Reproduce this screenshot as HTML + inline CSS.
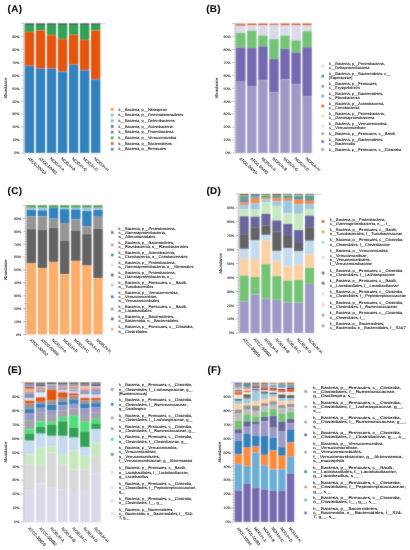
<!DOCTYPE html>
<html><head><meta charset="utf-8"><title>Figure</title>
<style>
html,body{margin:0;padding:0;background:#fff;}
body{width:410px;height:550px;overflow:hidden;}
svg{display:block;text-rendering:geometricPrecision;font-family:"Liberation Sans",Arial,Helvetica,sans-serif;}
.sh{}
.tx{}
.pl{font-size:9.8px;font-weight:bold;fill:#111;letter-spacing:.4px;stroke:#111;stroke-width:.15px;}
.yt{font-size:3.6px;fill:#333;text-anchor:end;stroke:#333;stroke-width:.1px;}
.ab{font-size:4.1px;fill:#333;text-anchor:middle;stroke:#333;stroke-width:.1px;}
.xl{font-size:4.0px;fill:#333;stroke:#333;stroke-width:.1px;}
.lg{font-size:3.92px;fill:#111;stroke:#111;stroke-width:.08px;}
.lf{font-size:4.68px;}
.xf{font-size:3.85px;}
.xd{font-size:4.15px;}
.axl{stroke:#888;stroke-width:.5;fill:none;}
.axb{stroke:#ddd;stroke-width:.5;fill:none;}
.axt{stroke:#888;stroke-width:.5;fill:none;}
.tk{stroke:#444;stroke-width:.4;fill:none;}
</style></head><body>
<svg width="410" height="550" viewBox="0 0 410 550">
<rect width="410" height="550" fill="#fff"/>
<defs><filter id="b" x="0" y="0" width="410" height="550" filterUnits="userSpaceOnUse"><feConvolveMatrix order="3" kernelMatrix="0.0225 0.1050 0.0225 0.1050 0.4900 0.1050 0.0225 0.1050 0.0225" divisor="1" edgeMode="duplicate"/></filter><filter id="t" x="0" y="0" width="410" height="550" filterUnits="userSpaceOnUse"><feGaussianBlur stdDeviation="0.2"/></filter></defs>
<g class="sh" filter="url(#b)">
<rect x="24.80" y="23.40" width="9.35" height="1.50" fill="#3f444f"/>
<rect x="24.80" y="24.90" width="9.35" height="7.10" fill="#31a354"/>
<rect x="24.80" y="32.00" width="9.35" height="33.80" fill="#e6550d"/>
<rect x="24.80" y="65.80" width="9.35" height="87.20" fill="#3182bd"/>
<rect x="35.83" y="23.40" width="9.35" height="1.50" fill="#3f444f"/>
<rect x="35.83" y="24.90" width="9.35" height="5.60" fill="#31a354"/>
<rect x="35.83" y="30.50" width="9.35" height="38.00" fill="#e6550d"/>
<rect x="35.83" y="68.50" width="9.35" height="84.50" fill="#3182bd"/>
<rect x="46.86" y="23.40" width="9.35" height="1.50" fill="#3f444f"/>
<rect x="46.86" y="24.90" width="9.35" height="10.20" fill="#31a354"/>
<rect x="46.86" y="35.10" width="9.35" height="33.40" fill="#e6550d"/>
<rect x="46.86" y="68.50" width="9.35" height="84.50" fill="#3182bd"/>
<rect x="57.89" y="23.40" width="9.35" height="1.50" fill="#3f444f"/>
<rect x="57.89" y="24.90" width="9.35" height="14.20" fill="#31a354"/>
<rect x="57.89" y="39.10" width="9.35" height="32.50" fill="#e6550d"/>
<rect x="57.89" y="71.60" width="9.35" height="81.40" fill="#3182bd"/>
<rect x="68.92" y="23.40" width="9.35" height="1.50" fill="#3f444f"/>
<rect x="68.92" y="24.90" width="9.35" height="10.00" fill="#31a354"/>
<rect x="68.92" y="34.90" width="9.35" height="29.85" fill="#e6550d"/>
<rect x="68.92" y="64.75" width="9.35" height="88.25" fill="#3182bd"/>
<rect x="79.95" y="23.40" width="9.35" height="1.50" fill="#3f444f"/>
<rect x="79.95" y="24.90" width="9.35" height="15.00" fill="#31a354"/>
<rect x="79.95" y="39.90" width="9.35" height="30.30" fill="#e6550d"/>
<rect x="79.95" y="70.20" width="9.35" height="82.80" fill="#3182bd"/>
<rect x="90.98" y="23.40" width="9.35" height="1.50" fill="#3f444f"/>
<rect x="90.98" y="24.90" width="9.35" height="5.60" fill="#31a354"/>
<rect x="90.98" y="30.50" width="9.35" height="48.80" fill="#e6550d"/>
<rect x="90.98" y="79.30" width="9.35" height="73.70" fill="#3182bd"/>
<path d="M24.2 23.5V153.0" class="axl"/>
<path d="M24.2 153.3H102.0" class="axb"/>
<path d="M99.3 23.75H105.6" class="axt"/>
<path d="M21.20 153.00H24.2M22.90 150.41H24.2M22.90 147.82H24.2M22.90 145.23H24.2M22.90 142.64H24.2M21.20 140.05H24.2M22.90 137.46H24.2M22.90 134.87H24.2M22.90 132.28H24.2M22.90 129.69H24.2M21.20 127.10H24.2M22.90 124.51H24.2M22.90 121.92H24.2M22.90 119.33H24.2M22.90 116.74H24.2M21.20 114.15H24.2M22.90 111.56H24.2M22.90 108.97H24.2M22.90 106.38H24.2M22.90 103.79H24.2M21.20 101.20H24.2M22.90 98.61H24.2M22.90 96.02H24.2M22.90 93.43H24.2M22.90 90.84H24.2M21.20 88.25H24.2M22.90 85.66H24.2M22.90 83.07H24.2M22.90 80.48H24.2M22.90 77.89H24.2M21.20 75.30H24.2M22.90 72.71H24.2M22.90 70.12H24.2M22.90 67.53H24.2M22.90 64.94H24.2M21.20 62.35H24.2M22.90 59.76H24.2M22.90 57.17H24.2M22.90 54.58H24.2M22.90 51.99H24.2M21.20 49.40H24.2M22.90 46.81H24.2M22.90 44.22H24.2M22.90 41.63H24.2M22.90 39.04H24.2M21.20 36.45H24.2M22.90 33.86H24.2M22.90 31.27H24.2M22.90 28.68H24.2M22.90 26.09H24.2M21.20 23.50H24.2" class="tk"/>
<rect x="110.90" y="108.10" width="2.6" height="2.6" fill="#fd8d3c"/>
<rect x="110.90" y="113.79" width="2.6" height="2.6" fill="#74c476"/>
<rect x="110.90" y="119.48" width="2.6" height="2.6" fill="#6baed6"/>
<rect x="110.90" y="125.17" width="2.6" height="2.6" fill="#636363"/>
<rect x="110.90" y="130.86" width="2.6" height="2.6" fill="#756bb1"/>
<rect x="110.90" y="136.55" width="2.6" height="2.6" fill="#31a354"/>
<rect x="110.90" y="142.24" width="2.6" height="2.6" fill="#e6550d"/>
<rect x="110.90" y="147.93" width="2.6" height="2.6" fill="#3182bd"/>
<rect x="236.10" y="23.40" width="9.4" height="0.80" fill="#8f9fc0"/>
<rect x="236.10" y="24.20" width="9.4" height="1.60" fill="#e6550d"/>
<rect x="236.10" y="25.80" width="9.4" height="7.10" fill="#dadaeb"/>
<rect x="236.10" y="32.90" width="9.4" height="14.70" fill="#74c476"/>
<rect x="236.10" y="47.60" width="9.4" height="34.17" fill="#756bb1"/>
<rect x="236.10" y="81.77" width="9.4" height="71.23" fill="#9e9ac8"/>
<rect x="247.15" y="23.40" width="9.4" height="0.50" fill="#8a8078"/>
<rect x="247.15" y="23.90" width="9.4" height="1.50" fill="#e6550d"/>
<rect x="247.15" y="25.40" width="9.4" height="5.30" fill="#dadaeb"/>
<rect x="247.15" y="30.70" width="9.4" height="17.40" fill="#74c476"/>
<rect x="247.15" y="48.10" width="9.4" height="38.46" fill="#756bb1"/>
<rect x="247.15" y="86.56" width="9.4" height="66.44" fill="#9e9ac8"/>
<rect x="258.20" y="23.40" width="9.4" height="0.50" fill="#8a8078"/>
<rect x="258.20" y="23.90" width="9.4" height="1.50" fill="#e6550d"/>
<rect x="258.20" y="25.40" width="9.4" height="10.20" fill="#dadaeb"/>
<rect x="258.20" y="35.60" width="9.4" height="10.70" fill="#74c476"/>
<rect x="258.20" y="46.30" width="9.4" height="34.04" fill="#756bb1"/>
<rect x="258.20" y="80.34" width="9.4" height="72.66" fill="#9e9ac8"/>
<rect x="269.25" y="23.40" width="9.4" height="0.80" fill="#8f9fc0"/>
<rect x="269.25" y="24.20" width="9.4" height="1.20" fill="#e6550d"/>
<rect x="269.25" y="25.40" width="9.4" height="13.70" fill="#dadaeb"/>
<rect x="269.25" y="39.10" width="9.4" height="19.90" fill="#74c476"/>
<rect x="269.25" y="59.00" width="9.4" height="33.52" fill="#756bb1"/>
<rect x="269.25" y="92.52" width="9.4" height="60.48" fill="#9e9ac8"/>
<rect x="280.30" y="23.40" width="9.4" height="0.50" fill="#8a8078"/>
<rect x="280.30" y="23.90" width="9.4" height="1.50" fill="#e6550d"/>
<rect x="280.30" y="25.40" width="9.4" height="10.20" fill="#dadaeb"/>
<rect x="280.30" y="35.60" width="9.4" height="13.30" fill="#74c476"/>
<rect x="280.30" y="48.90" width="9.4" height="30.41" fill="#756bb1"/>
<rect x="280.30" y="79.31" width="9.4" height="73.69" fill="#9e9ac8"/>
<rect x="291.35" y="23.40" width="9.4" height="0.50" fill="#8a8078"/>
<rect x="291.35" y="23.90" width="9.4" height="1.50" fill="#e6550d"/>
<rect x="291.35" y="25.40" width="9.4" height="15.00" fill="#dadaeb"/>
<rect x="291.35" y="40.40" width="9.4" height="12.10" fill="#74c476"/>
<rect x="291.35" y="52.50" width="9.4" height="31.47" fill="#756bb1"/>
<rect x="291.35" y="83.97" width="9.4" height="69.03" fill="#9e9ac8"/>
<rect x="302.40" y="23.40" width="9.4" height="0.50" fill="#8a8078"/>
<rect x="302.40" y="23.90" width="9.4" height="1.50" fill="#e6550d"/>
<rect x="302.40" y="25.40" width="9.4" height="5.80" fill="#dadaeb"/>
<rect x="302.40" y="31.20" width="9.4" height="16.00" fill="#74c476"/>
<rect x="302.40" y="47.20" width="9.4" height="49.33" fill="#756bb1"/>
<rect x="302.40" y="96.53" width="9.4" height="56.47" fill="#9e9ac8"/>
<path d="M235.4 23.5V153.0" class="axl"/>
<path d="M235.4 153.3H313.4" class="axb"/>
<path d="M232.40 153.00H235.4M234.10 150.41H235.4M234.10 147.82H235.4M234.10 145.23H235.4M234.10 142.64H235.4M232.40 140.05H235.4M234.10 137.46H235.4M234.10 134.87H235.4M234.10 132.28H235.4M234.10 129.69H235.4M232.40 127.10H235.4M234.10 124.51H235.4M234.10 121.92H235.4M234.10 119.33H235.4M234.10 116.74H235.4M232.40 114.15H235.4M234.10 111.56H235.4M234.10 108.97H235.4M234.10 106.38H235.4M234.10 103.79H235.4M232.40 101.20H235.4M234.10 98.61H235.4M234.10 96.02H235.4M234.10 93.43H235.4M234.10 90.84H235.4M232.40 88.25H235.4M234.10 85.66H235.4M234.10 83.07H235.4M234.10 80.48H235.4M234.10 77.89H235.4M232.40 75.30H235.4M234.10 72.71H235.4M234.10 70.12H235.4M234.10 67.53H235.4M234.10 64.94H235.4M232.40 62.35H235.4M234.10 59.76H235.4M234.10 57.17H235.4M234.10 54.58H235.4M234.10 51.99H235.4M232.40 49.40H235.4M234.10 46.81H235.4M234.10 44.22H235.4M234.10 41.63H235.4M234.10 39.04H235.4M232.40 36.45H235.4M234.10 33.86H235.4M234.10 31.27H235.4M234.10 28.68H235.4M234.10 26.09H235.4M232.40 23.50H235.4" class="tk"/>
<rect x="321.40" y="64.60" width="2.6" height="2.6" fill="#c6dbef"/>
<rect x="321.40" y="74.90" width="2.6" height="2.6" fill="#31a354"/>
<rect x="321.40" y="84.90" width="2.6" height="2.6" fill="#969696"/>
<rect x="321.40" y="94.70" width="2.6" height="2.6" fill="#6baed6"/>
<rect x="321.40" y="104.70" width="2.6" height="2.6" fill="#e6550d"/>
<rect x="321.40" y="114.60" width="2.6" height="2.6" fill="#fdd0a2"/>
<rect x="321.40" y="124.70" width="2.6" height="2.6" fill="#dadaeb"/>
<rect x="321.40" y="132.40" width="2.6" height="2.6" fill="#74c476"/>
<rect x="321.40" y="140.20" width="2.6" height="2.6" fill="#756bb1"/>
<rect x="321.40" y="148.20" width="2.6" height="2.6" fill="#9e9ac8"/>
<rect x="26.60" y="205.20" width="9.4" height="0.70" fill="#9a7050"/>
<rect x="26.60" y="205.90" width="9.4" height="1.80" fill="#31a354"/>
<rect x="26.60" y="207.70" width="9.4" height="2.20" fill="#9ecae1"/>
<rect x="26.60" y="209.90" width="9.4" height="6.60" fill="#3182bd"/>
<rect x="26.60" y="216.50" width="9.4" height="12.70" fill="#969696"/>
<rect x="26.60" y="229.20" width="9.4" height="34.17" fill="#636363"/>
<rect x="26.60" y="263.37" width="9.4" height="71.13" fill="#fdae6b"/>
<rect x="37.72" y="205.20" width="9.4" height="0.70" fill="#9a7050"/>
<rect x="37.72" y="205.90" width="9.4" height="1.80" fill="#31a354"/>
<rect x="37.72" y="207.70" width="9.4" height="2.60" fill="#9ecae1"/>
<rect x="37.72" y="210.30" width="9.4" height="6.20" fill="#3182bd"/>
<rect x="37.72" y="216.50" width="9.4" height="13.20" fill="#969696"/>
<rect x="37.72" y="229.70" width="9.4" height="38.46" fill="#636363"/>
<rect x="37.72" y="268.16" width="9.4" height="66.34" fill="#fdae6b"/>
<rect x="48.84" y="205.20" width="9.4" height="0.70" fill="#9a7050"/>
<rect x="48.84" y="205.90" width="9.4" height="1.80" fill="#31a354"/>
<rect x="48.84" y="207.70" width="9.4" height="0.20" fill="#9ecae1"/>
<rect x="48.84" y="207.90" width="9.4" height="10.80" fill="#3182bd"/>
<rect x="48.84" y="218.70" width="9.4" height="9.20" fill="#969696"/>
<rect x="48.84" y="227.90" width="9.4" height="34.04" fill="#636363"/>
<rect x="48.84" y="261.94" width="9.4" height="72.56" fill="#fdae6b"/>
<rect x="59.96" y="205.20" width="9.4" height="0.70" fill="#9a7050"/>
<rect x="59.96" y="205.90" width="9.4" height="1.80" fill="#31a354"/>
<rect x="59.96" y="207.70" width="9.4" height="1.50" fill="#9ecae1"/>
<rect x="59.96" y="209.20" width="9.4" height="13.80" fill="#3182bd"/>
<rect x="59.96" y="223.00" width="9.4" height="17.60" fill="#969696"/>
<rect x="59.96" y="240.60" width="9.4" height="33.52" fill="#636363"/>
<rect x="59.96" y="274.12" width="9.4" height="60.38" fill="#fdae6b"/>
<rect x="71.08" y="205.20" width="9.4" height="0.70" fill="#9a7050"/>
<rect x="71.08" y="205.90" width="9.4" height="1.80" fill="#31a354"/>
<rect x="71.08" y="207.70" width="9.4" height="1.70" fill="#9ecae1"/>
<rect x="71.08" y="209.40" width="9.4" height="9.90" fill="#3182bd"/>
<rect x="71.08" y="219.30" width="9.4" height="11.20" fill="#969696"/>
<rect x="71.08" y="230.50" width="9.4" height="30.41" fill="#636363"/>
<rect x="71.08" y="260.91" width="9.4" height="73.59" fill="#fdae6b"/>
<rect x="82.20" y="205.20" width="9.4" height="0.70" fill="#9a7050"/>
<rect x="82.20" y="205.90" width="9.4" height="1.80" fill="#31a354"/>
<rect x="82.20" y="207.70" width="9.4" height="3.30" fill="#9ecae1"/>
<rect x="82.20" y="211.00" width="9.4" height="15.30" fill="#3182bd"/>
<rect x="82.20" y="226.30" width="9.4" height="7.80" fill="#969696"/>
<rect x="82.20" y="234.10" width="9.4" height="31.47" fill="#636363"/>
<rect x="82.20" y="265.57" width="9.4" height="68.93" fill="#fdae6b"/>
<rect x="93.32" y="205.20" width="9.4" height="0.70" fill="#9a7050"/>
<rect x="93.32" y="205.90" width="9.4" height="1.80" fill="#31a354"/>
<rect x="93.32" y="207.70" width="9.4" height="2.20" fill="#9ecae1"/>
<rect x="93.32" y="209.90" width="9.4" height="6.10" fill="#3182bd"/>
<rect x="93.32" y="216.00" width="9.4" height="12.80" fill="#969696"/>
<rect x="93.32" y="228.80" width="9.4" height="49.33" fill="#636363"/>
<rect x="93.32" y="278.13" width="9.4" height="56.37" fill="#fdae6b"/>
<path d="M26.0 205.5V334.5" class="axl"/>
<path d="M26.0 334.8H104.4" class="axb"/>
<path d="M23.00 334.50H26.0M24.70 331.92H26.0M24.70 329.34H26.0M24.70 326.76H26.0M24.70 324.18H26.0M23.00 321.60H26.0M24.70 319.02H26.0M24.70 316.44H26.0M24.70 313.86H26.0M24.70 311.28H26.0M23.00 308.70H26.0M24.70 306.12H26.0M24.70 303.54H26.0M24.70 300.96H26.0M24.70 298.38H26.0M23.00 295.80H26.0M24.70 293.22H26.0M24.70 290.64H26.0M24.70 288.06H26.0M24.70 285.48H26.0M23.00 282.90H26.0M24.70 280.32H26.0M24.70 277.74H26.0M24.70 275.16H26.0M24.70 272.58H26.0M23.00 270.00H26.0M24.70 267.42H26.0M24.70 264.84H26.0M24.70 262.26H26.0M24.70 259.68H26.0M23.00 257.10H26.0M24.70 254.52H26.0M24.70 251.94H26.0M24.70 249.36H26.0M24.70 246.78H26.0M23.00 244.20H26.0M24.70 241.62H26.0M24.70 239.04H26.0M24.70 236.46H26.0M24.70 233.88H26.0M23.00 231.30H26.0M24.70 228.72H26.0M24.70 226.14H26.0M24.70 223.56H26.0M24.70 220.98H26.0M23.00 218.40H26.0M24.70 215.82H26.0M24.70 213.24H26.0M24.70 210.66H26.0M24.70 208.08H26.0M23.00 205.50H26.0" class="tk"/>
<rect x="111.00" y="231.20" width="2.6" height="2.6" fill="#b5673c"/>
<rect x="111.00" y="243.60" width="2.6" height="2.6" fill="#fd8d3c"/>
<rect x="111.00" y="253.70" width="2.6" height="2.6" fill="#31a354"/>
<rect x="111.00" y="263.60" width="2.6" height="2.6" fill="#c7e9c0"/>
<rect x="111.00" y="273.70" width="2.6" height="2.6" fill="#636363"/>
<rect x="111.00" y="283.80" width="2.6" height="2.6" fill="#9ecae1"/>
<rect x="111.00" y="295.50" width="2.6" height="2.6" fill="#3182bd"/>
<rect x="111.00" y="307.80" width="2.6" height="2.6" fill="#969696"/>
<rect x="111.00" y="317.60" width="2.6" height="2.6" fill="#636363"/>
<rect x="111.00" y="327.90" width="2.6" height="2.6" fill="#fdae6b"/>
<rect x="239.60" y="193.90" width="9.1" height="1.10" fill="#8a4a28"/>
<rect x="239.60" y="195.00" width="9.1" height="1.60" fill="#a0a0b0"/>
<rect x="239.60" y="196.60" width="9.1" height="1.70" fill="#31a354"/>
<rect x="239.60" y="198.30" width="9.1" height="4.40" fill="#6f8fa8"/>
<rect x="239.60" y="202.70" width="9.1" height="2.40" fill="#fd8d3c"/>
<rect x="239.60" y="205.10" width="9.1" height="4.10" fill="#9ecae1"/>
<rect x="239.60" y="209.20" width="9.1" height="7.00" fill="#c7e9c0"/>
<rect x="239.60" y="216.20" width="9.1" height="18.70" fill="#69669b"/>
<rect x="239.60" y="234.90" width="9.1" height="14.00" fill="#636363"/>
<rect x="239.60" y="248.90" width="9.1" height="10.00" fill="#c6dbef"/>
<rect x="239.60" y="258.90" width="9.1" height="16.60" fill="#fdd0a2"/>
<rect x="239.60" y="275.50" width="9.1" height="26.00" fill="#74c476"/>
<rect x="239.60" y="301.50" width="9.1" height="31.50" fill="#9e9ac8"/>
<rect x="250.50" y="193.90" width="9.1" height="0.90" fill="#604840"/>
<rect x="250.50" y="194.80" width="9.1" height="1.80" fill="#7090a8"/>
<rect x="250.50" y="196.60" width="9.1" height="1.00" fill="#50a080"/>
<rect x="250.50" y="197.60" width="9.1" height="1.20" fill="#6f8fa8"/>
<rect x="250.50" y="198.80" width="9.1" height="4.20" fill="#fd8d3c"/>
<rect x="250.50" y="203.00" width="9.1" height="6.50" fill="#9ecae1"/>
<rect x="250.50" y="209.50" width="9.1" height="7.10" fill="#c7e9c0"/>
<rect x="250.50" y="216.60" width="9.1" height="10.60" fill="#69669b"/>
<rect x="250.50" y="227.20" width="9.1" height="13.20" fill="#636363"/>
<rect x="250.50" y="240.40" width="9.1" height="18.60" fill="#c6dbef"/>
<rect x="250.50" y="259.00" width="9.1" height="18.00" fill="#fdd0a2"/>
<rect x="250.50" y="277.00" width="9.1" height="17.60" fill="#74c476"/>
<rect x="250.50" y="294.60" width="9.1" height="38.40" fill="#9e9ac8"/>
<rect x="261.40" y="193.90" width="9.1" height="1.00" fill="#6a625a"/>
<rect x="261.40" y="194.90" width="9.1" height="1.10" fill="#b0c0b0"/>
<rect x="261.40" y="196.00" width="9.1" height="1.60" fill="#31a354"/>
<rect x="261.40" y="197.60" width="9.1" height="1.70" fill="#e09040"/>
<rect x="261.40" y="199.30" width="9.1" height="2.90" fill="#9ecae1"/>
<rect x="261.40" y="202.20" width="9.1" height="11.60" fill="#c7e9c0"/>
<rect x="261.40" y="213.80" width="9.1" height="11.60" fill="#69669b"/>
<rect x="261.40" y="225.40" width="9.1" height="9.50" fill="#636363"/>
<rect x="261.40" y="234.90" width="9.1" height="5.90" fill="#c6dbef"/>
<rect x="261.40" y="240.80" width="9.1" height="23.30" fill="#fdd0a2"/>
<rect x="261.40" y="264.10" width="9.1" height="34.60" fill="#74c476"/>
<rect x="261.40" y="298.70" width="9.1" height="34.30" fill="#9e9ac8"/>
<rect x="272.30" y="193.90" width="9.1" height="1.10" fill="#8a4a28"/>
<rect x="272.30" y="195.00" width="9.1" height="1.20" fill="#80a890"/>
<rect x="272.30" y="196.20" width="9.1" height="0.80" fill="#31a354"/>
<rect x="272.30" y="197.00" width="9.1" height="1.50" fill="#6f8fa8"/>
<rect x="272.30" y="198.50" width="9.1" height="2.70" fill="#fd8d3c"/>
<rect x="272.30" y="201.20" width="9.1" height="4.70" fill="#9ecae1"/>
<rect x="272.30" y="205.90" width="9.1" height="14.60" fill="#c7e9c0"/>
<rect x="272.30" y="220.50" width="9.1" height="11.20" fill="#69669b"/>
<rect x="272.30" y="231.70" width="9.1" height="19.20" fill="#636363"/>
<rect x="272.30" y="250.90" width="9.1" height="10.30" fill="#c6dbef"/>
<rect x="272.30" y="261.20" width="9.1" height="14.90" fill="#fdd0a2"/>
<rect x="272.30" y="276.10" width="9.1" height="23.70" fill="#74c476"/>
<rect x="272.30" y="299.80" width="9.1" height="33.20" fill="#9e9ac8"/>
<rect x="283.20" y="193.90" width="9.1" height="0.90" fill="#4a4a4a"/>
<rect x="283.20" y="194.80" width="9.1" height="1.20" fill="#b8b8c8"/>
<rect x="283.20" y="196.00" width="9.1" height="1.80" fill="#31a354"/>
<rect x="283.20" y="197.80" width="9.1" height="1.00" fill="#6f8fa8"/>
<rect x="283.20" y="198.80" width="9.1" height="2.10" fill="#fd8d3c"/>
<rect x="283.20" y="200.90" width="9.1" height="12.30" fill="#9ecae1"/>
<rect x="283.20" y="213.20" width="9.1" height="10.70" fill="#c7e9c0"/>
<rect x="283.20" y="223.90" width="9.1" height="12.10" fill="#69669b"/>
<rect x="283.20" y="236.00" width="9.1" height="12.00" fill="#636363"/>
<rect x="283.20" y="248.00" width="9.1" height="18.70" fill="#c6dbef"/>
<rect x="283.20" y="266.70" width="9.1" height="13.80" fill="#fdd0a2"/>
<rect x="283.20" y="280.50" width="9.1" height="21.90" fill="#74c476"/>
<rect x="283.20" y="302.40" width="9.1" height="30.60" fill="#9e9ac8"/>
<rect x="294.10" y="193.90" width="9.1" height="0.90" fill="#4a4a4a"/>
<rect x="294.10" y="194.80" width="9.1" height="1.50" fill="#b0b0c0"/>
<rect x="294.10" y="196.30" width="9.1" height="1.70" fill="#31a354"/>
<rect x="294.10" y="198.00" width="9.1" height="1.80" fill="#6f8fa8"/>
<rect x="294.10" y="199.80" width="9.1" height="4.20" fill="#fd8d3c"/>
<rect x="294.10" y="204.00" width="9.1" height="9.80" fill="#9ecae1"/>
<rect x="294.10" y="213.80" width="9.1" height="16.20" fill="#c7e9c0"/>
<rect x="294.10" y="230.00" width="9.1" height="13.00" fill="#69669b"/>
<rect x="294.10" y="243.00" width="9.1" height="8.30" fill="#636363"/>
<rect x="294.10" y="251.30" width="9.1" height="13.60" fill="#c6dbef"/>
<rect x="294.10" y="264.90" width="9.1" height="15.00" fill="#fdd0a2"/>
<rect x="294.10" y="279.90" width="9.1" height="22.50" fill="#74c476"/>
<rect x="294.10" y="302.40" width="9.1" height="30.60" fill="#9e9ac8"/>
<rect x="305.00" y="193.90" width="9.1" height="0.90" fill="#4a4a4a"/>
<rect x="305.00" y="194.80" width="9.1" height="1.20" fill="#b8b8c8"/>
<rect x="305.00" y="196.00" width="9.1" height="1.80" fill="#31a354"/>
<rect x="305.00" y="197.80" width="9.1" height="3.10" fill="#6f8fa8"/>
<rect x="305.00" y="200.90" width="9.1" height="3.20" fill="#fd8d3c"/>
<rect x="305.00" y="204.10" width="9.1" height="5.10" fill="#9ecae1"/>
<rect x="305.00" y="209.20" width="9.1" height="6.40" fill="#c7e9c0"/>
<rect x="305.00" y="215.60" width="9.1" height="11.60" fill="#69669b"/>
<rect x="305.00" y="227.20" width="9.1" height="13.60" fill="#636363"/>
<rect x="305.00" y="240.80" width="9.1" height="13.80" fill="#c6dbef"/>
<rect x="305.00" y="254.60" width="9.1" height="13.20" fill="#fdd0a2"/>
<rect x="305.00" y="267.80" width="9.1" height="16.10" fill="#74c476"/>
<rect x="305.00" y="283.90" width="9.1" height="49.10" fill="#9e9ac8"/>
<path d="M238.8 194.0V333.0" class="axl"/>
<path d="M238.8 333.3H315.9" class="axb"/>
<path d="M313.1 194.25H321.3" class="axt"/>
<path d="M235.80 333.00H238.8M237.50 330.22H238.8M237.50 327.44H238.8M237.50 324.66H238.8M237.50 321.88H238.8M235.80 319.10H238.8M237.50 316.32H238.8M237.50 313.54H238.8M237.50 310.76H238.8M237.50 307.98H238.8M235.80 305.20H238.8M237.50 302.42H238.8M237.50 299.64H238.8M237.50 296.86H238.8M237.50 294.08H238.8M235.80 291.30H238.8M237.50 288.52H238.8M237.50 285.74H238.8M237.50 282.96H238.8M237.50 280.18H238.8M235.80 277.40H238.8M237.50 274.62H238.8M237.50 271.84H238.8M237.50 269.06H238.8M237.50 266.28H238.8M235.80 263.50H238.8M237.50 260.72H238.8M237.50 257.94H238.8M237.50 255.16H238.8M237.50 252.38H238.8M235.80 249.60H238.8M237.50 246.82H238.8M237.50 244.04H238.8M237.50 241.26H238.8M237.50 238.48H238.8M235.80 235.70H238.8M237.50 232.92H238.8M237.50 230.14H238.8M237.50 227.36H238.8M237.50 224.58H238.8M235.80 221.80H238.8M237.50 219.02H238.8M237.50 216.24H238.8M237.50 213.46H238.8M237.50 210.68H238.8M235.80 207.90H238.8M237.50 205.12H238.8M237.50 202.34H238.8M237.50 199.56H238.8M237.50 196.78H238.8M235.80 194.00H238.8" class="tk"/>
<rect x="321.80" y="220.20" width="2.6" height="2.6" fill="#b5673c"/>
<rect x="321.80" y="230.60" width="2.6" height="2.6" fill="#fd8d3c"/>
<rect x="321.80" y="240.90" width="2.6" height="2.6" fill="#9ecae1"/>
<rect x="321.80" y="256.20" width="2.6" height="2.6" fill="#c7e9c0"/>
<rect x="321.80" y="271.70" width="2.6" height="2.6" fill="#69669b"/>
<rect x="321.80" y="281.90" width="2.6" height="2.6" fill="#636363"/>
<rect x="321.80" y="292.50" width="2.6" height="2.6" fill="#c6dbef"/>
<rect x="321.80" y="303.40" width="2.6" height="2.6" fill="#fdd0a2"/>
<rect x="321.80" y="313.90" width="2.6" height="2.6" fill="#74c476"/>
<rect x="321.80" y="324.60" width="2.6" height="2.6" fill="#9e9ac8"/>
<rect x="24.90" y="382.50" width="9.45" height="1.40" fill="#8a4a20"/>
<rect x="24.90" y="383.90" width="9.45" height="1.20" fill="#8fa0b0"/>
<rect x="24.90" y="385.10" width="9.45" height="0.90" fill="#5090c0"/>
<rect x="24.90" y="386.00" width="9.45" height="1.00" fill="#d0a080"/>
<rect x="24.90" y="387.00" width="9.45" height="1.00" fill="#7070b0"/>
<rect x="24.90" y="388.00" width="9.45" height="1.00" fill="#e08040"/>
<rect x="24.90" y="389.00" width="9.45" height="2.90" fill="#fdae6b"/>
<rect x="24.90" y="391.90" width="9.45" height="2.00" fill="#a8a0d0"/>
<rect x="24.90" y="393.90" width="9.45" height="4.20" fill="#8497ad"/>
<rect x="24.90" y="398.10" width="9.45" height="2.50" fill="#dadaeb"/>
<rect x="24.90" y="400.60" width="9.45" height="3.00" fill="#e6550d"/>
<rect x="24.90" y="403.60" width="9.45" height="5.50" fill="#969696"/>
<rect x="24.90" y="409.10" width="9.45" height="3.90" fill="#3182bd"/>
<rect x="24.90" y="413.00" width="9.45" height="7.10" fill="#9e9ac8"/>
<rect x="24.90" y="420.10" width="9.45" height="9.20" fill="#a3a3ab"/>
<rect x="24.90" y="429.30" width="9.45" height="4.40" fill="#4fe07a"/>
<rect x="24.90" y="433.70" width="9.45" height="7.00" fill="#31a354"/>
<rect x="24.90" y="440.70" width="9.45" height="13.60" fill="#c6dbef"/>
<rect x="24.90" y="454.30" width="9.45" height="9.80" fill="#c7e9c0"/>
<rect x="24.90" y="464.10" width="9.45" height="26.40" fill="#d9d9d9"/>
<rect x="24.90" y="490.50" width="9.45" height="31.50" fill="#dadaeb"/>
<rect x="35.95" y="382.50" width="9.45" height="1.40" fill="#606068"/>
<rect x="35.95" y="383.90" width="9.45" height="1.20" fill="#7090b0"/>
<rect x="35.95" y="385.10" width="9.45" height="1.20" fill="#4a3a6a"/>
<rect x="35.95" y="386.30" width="9.45" height="1.30" fill="#b0b0c0"/>
<rect x="35.95" y="387.60" width="9.45" height="2.00" fill="#f09050"/>
<rect x="35.95" y="389.60" width="9.45" height="1.10" fill="#a0a0d0"/>
<rect x="35.95" y="390.70" width="9.45" height="1.80" fill="#8497ad"/>
<rect x="35.95" y="392.50" width="9.45" height="4.70" fill="#e6e6f2"/>
<rect x="35.95" y="397.20" width="9.45" height="4.60" fill="#e6550d"/>
<rect x="35.95" y="401.80" width="9.45" height="2.10" fill="#969696"/>
<rect x="35.95" y="403.90" width="9.45" height="4.00" fill="#3182bd"/>
<rect x="35.95" y="407.90" width="9.45" height="4.90" fill="#9e9ac8"/>
<rect x="35.95" y="412.80" width="9.45" height="8.50" fill="#a3a3ab"/>
<rect x="35.95" y="421.30" width="9.45" height="5.50" fill="#4fe07a"/>
<rect x="35.95" y="426.80" width="9.45" height="6.90" fill="#31a354"/>
<rect x="35.95" y="433.70" width="9.45" height="14.00" fill="#c6dbef"/>
<rect x="35.95" y="447.70" width="9.45" height="18.20" fill="#c7e9c0"/>
<rect x="35.95" y="465.90" width="9.45" height="17.60" fill="#d9d9d9"/>
<rect x="35.95" y="483.50" width="9.45" height="38.50" fill="#dadaeb"/>
<rect x="47.00" y="382.50" width="9.45" height="1.60" fill="#505050"/>
<rect x="47.00" y="384.10" width="9.45" height="1.90" fill="#b4b4c0"/>
<rect x="47.00" y="386.00" width="9.45" height="1.60" fill="#9a90b8"/>
<rect x="47.00" y="387.60" width="9.45" height="2.00" fill="#a0a0a8"/>
<rect x="47.00" y="389.60" width="9.45" height="11.00" fill="#e6550d"/>
<rect x="47.00" y="400.60" width="9.45" height="4.20" fill="#969696"/>
<rect x="47.00" y="404.80" width="9.45" height="5.20" fill="#3182bd"/>
<rect x="47.00" y="410.00" width="9.45" height="5.80" fill="#9e9ac8"/>
<rect x="47.00" y="415.80" width="9.45" height="6.10" fill="#a3a3ab"/>
<rect x="47.00" y="421.90" width="9.45" height="2.70" fill="#4fe07a"/>
<rect x="47.00" y="424.60" width="9.45" height="11.30" fill="#31a354"/>
<rect x="47.00" y="435.90" width="9.45" height="10.70" fill="#c6dbef"/>
<rect x="47.00" y="446.60" width="9.45" height="5.90" fill="#c7e9c0"/>
<rect x="47.00" y="452.50" width="9.45" height="35.30" fill="#d9d9d9"/>
<rect x="47.00" y="487.80" width="9.45" height="34.20" fill="#dadaeb"/>
<rect x="58.05" y="382.50" width="9.45" height="1.40" fill="#604030"/>
<rect x="58.05" y="383.90" width="9.45" height="1.60" fill="#8898a8"/>
<rect x="58.05" y="385.50" width="9.45" height="1.20" fill="#7090b8"/>
<rect x="58.05" y="386.70" width="9.45" height="1.60" fill="#f0a070"/>
<rect x="58.05" y="388.30" width="9.45" height="1.50" fill="#9080c0"/>
<rect x="58.05" y="389.80" width="9.45" height="2.40" fill="#d4d4ea"/>
<rect x="58.05" y="392.20" width="9.45" height="5.60" fill="#e6550d"/>
<rect x="58.05" y="397.80" width="9.45" height="4.00" fill="#969696"/>
<rect x="58.05" y="401.80" width="9.45" height="3.60" fill="#3182bd"/>
<rect x="58.05" y="405.40" width="9.45" height="4.90" fill="#9e9ac8"/>
<rect x="58.05" y="410.30" width="9.45" height="6.70" fill="#a3a3ab"/>
<rect x="58.05" y="417.00" width="9.45" height="4.30" fill="#4fe07a"/>
<rect x="58.05" y="421.30" width="9.45" height="14.60" fill="#31a354"/>
<rect x="58.05" y="435.90" width="9.45" height="19.00" fill="#c6dbef"/>
<rect x="58.05" y="454.90" width="9.45" height="10.30" fill="#c7e9c0"/>
<rect x="58.05" y="465.20" width="9.45" height="24.20" fill="#d9d9d9"/>
<rect x="58.05" y="489.40" width="9.45" height="32.60" fill="#dadaeb"/>
<rect x="69.10" y="382.50" width="9.45" height="1.40" fill="#505050"/>
<rect x="69.10" y="383.90" width="9.45" height="1.20" fill="#c0a080"/>
<rect x="69.10" y="385.10" width="9.45" height="1.20" fill="#60a0b0"/>
<rect x="69.10" y="386.30" width="9.45" height="1.20" fill="#f0b080"/>
<rect x="69.10" y="387.50" width="9.45" height="1.30" fill="#8070b0"/>
<rect x="69.10" y="388.80" width="9.45" height="1.20" fill="#e0c8c0"/>
<rect x="69.10" y="390.00" width="9.45" height="1.60" fill="#90a0b0"/>
<rect x="69.10" y="391.60" width="9.45" height="1.60" fill="#dadaeb"/>
<rect x="69.10" y="393.20" width="9.45" height="2.40" fill="#e6550d"/>
<rect x="69.10" y="395.60" width="9.45" height="4.40" fill="#969696"/>
<rect x="69.10" y="400.00" width="9.45" height="3.90" fill="#3182bd"/>
<rect x="69.10" y="403.90" width="9.45" height="4.60" fill="#9e9ac8"/>
<rect x="69.10" y="408.50" width="9.45" height="7.30" fill="#a3a3ab"/>
<rect x="69.10" y="415.80" width="9.45" height="11.90" fill="#4fe07a"/>
<rect x="69.10" y="427.70" width="9.45" height="9.90" fill="#31a354"/>
<rect x="69.10" y="437.60" width="9.45" height="12.90" fill="#c6dbef"/>
<rect x="69.10" y="450.50" width="9.45" height="19.10" fill="#c7e9c0"/>
<rect x="69.10" y="469.60" width="9.45" height="21.30" fill="#d9d9d9"/>
<rect x="69.10" y="490.90" width="9.45" height="31.10" fill="#dadaeb"/>
<rect x="80.15" y="382.50" width="9.45" height="1.40" fill="#505050"/>
<rect x="80.15" y="383.90" width="9.45" height="1.20" fill="#c08050"/>
<rect x="80.15" y="385.10" width="9.45" height="1.20" fill="#5080b0"/>
<rect x="80.15" y="386.30" width="9.45" height="1.30" fill="#c8c8d8"/>
<rect x="80.15" y="387.60" width="9.45" height="2.40" fill="#fdae6b"/>
<rect x="80.15" y="390.00" width="9.45" height="2.20" fill="#a098d0"/>
<rect x="80.15" y="392.20" width="9.45" height="2.20" fill="#8497ad"/>
<rect x="80.15" y="394.40" width="9.45" height="3.40" fill="#e0e0f0"/>
<rect x="80.15" y="397.80" width="9.45" height="2.80" fill="#e6550d"/>
<rect x="80.15" y="400.60" width="9.45" height="3.40" fill="#969696"/>
<rect x="80.15" y="404.00" width="9.45" height="4.50" fill="#3182bd"/>
<rect x="80.15" y="408.50" width="9.45" height="5.50" fill="#9e9ac8"/>
<rect x="80.15" y="414.00" width="9.45" height="7.70" fill="#a3a3ab"/>
<rect x="80.15" y="421.70" width="9.45" height="9.80" fill="#4fe07a"/>
<rect x="80.15" y="431.50" width="9.45" height="15.70" fill="#31a354"/>
<rect x="80.15" y="447.20" width="9.45" height="8.60" fill="#c6dbef"/>
<rect x="80.15" y="455.80" width="9.45" height="13.40" fill="#c7e9c0"/>
<rect x="80.15" y="469.20" width="9.45" height="21.70" fill="#d9d9d9"/>
<rect x="80.15" y="490.90" width="9.45" height="31.10" fill="#dadaeb"/>
<rect x="91.20" y="382.50" width="9.45" height="1.20" fill="#505050"/>
<rect x="91.20" y="383.70" width="9.45" height="1.20" fill="#5090c0"/>
<rect x="91.20" y="384.90" width="9.45" height="1.20" fill="#604060"/>
<rect x="91.20" y="386.10" width="9.45" height="1.20" fill="#d0c0c0"/>
<rect x="91.20" y="387.30" width="9.45" height="1.50" fill="#f0a070"/>
<rect x="91.20" y="388.80" width="9.45" height="3.40" fill="#a098d0"/>
<rect x="91.20" y="392.20" width="9.45" height="2.40" fill="#8497ad"/>
<rect x="91.20" y="394.60" width="9.45" height="3.20" fill="#dadaeb"/>
<rect x="91.20" y="397.80" width="9.45" height="2.30" fill="#e6550d"/>
<rect x="91.20" y="400.10" width="9.45" height="3.00" fill="#969696"/>
<rect x="91.20" y="403.10" width="9.45" height="3.90" fill="#3182bd"/>
<rect x="91.20" y="407.00" width="9.45" height="5.80" fill="#9e9ac8"/>
<rect x="91.20" y="412.80" width="9.45" height="6.10" fill="#a3a3ab"/>
<rect x="91.20" y="418.90" width="9.45" height="4.50" fill="#4fe07a"/>
<rect x="91.20" y="423.40" width="9.45" height="5.90" fill="#31a354"/>
<rect x="91.20" y="429.30" width="9.45" height="13.30" fill="#c6dbef"/>
<rect x="91.20" y="442.60" width="9.45" height="14.30" fill="#c7e9c0"/>
<rect x="91.20" y="456.90" width="9.45" height="16.50" fill="#d9d9d9"/>
<rect x="91.20" y="473.40" width="9.45" height="48.60" fill="#dadaeb"/>
<path d="M24.2 382.5V522.0" class="axl"/>
<path d="M24.2 522.3H102.2" class="axb"/>
<path d="M21.20 522.00H24.2M22.90 519.21H24.2M22.90 516.42H24.2M22.90 513.63H24.2M22.90 510.84H24.2M21.20 508.05H24.2M22.90 505.26H24.2M22.90 502.47H24.2M22.90 499.68H24.2M22.90 496.89H24.2M21.20 494.10H24.2M22.90 491.31H24.2M22.90 488.52H24.2M22.90 485.73H24.2M22.90 482.94H24.2M21.20 480.15H24.2M22.90 477.36H24.2M22.90 474.57H24.2M22.90 471.78H24.2M22.90 468.99H24.2M21.20 466.20H24.2M22.90 463.41H24.2M22.90 460.62H24.2M22.90 457.83H24.2M22.90 455.04H24.2M21.20 452.25H24.2M22.90 449.46H24.2M22.90 446.67H24.2M22.90 443.88H24.2M22.90 441.09H24.2M21.20 438.30H24.2M22.90 435.51H24.2M22.90 432.72H24.2M22.90 429.93H24.2M22.90 427.14H24.2M21.20 424.35H24.2M22.90 421.56H24.2M22.90 418.77H24.2M22.90 415.98H24.2M22.90 413.19H24.2M21.20 410.40H24.2M22.90 407.61H24.2M22.90 404.82H24.2M22.90 402.03H24.2M22.90 399.24H24.2M21.20 396.45H24.2M22.90 393.66H24.2M22.90 390.87H24.2M22.90 388.08H24.2M22.90 385.29H24.2M21.20 382.50H24.2" class="tk"/>
<rect x="110.90" y="388.20" width="2.6" height="2.6" fill="#969696"/>
<rect x="110.90" y="403.00" width="2.6" height="2.6" fill="#3182bd"/>
<rect x="110.90" y="416.50" width="2.6" height="2.6" fill="#9e9ac8"/>
<rect x="110.90" y="427.30" width="2.6" height="2.6" fill="#969696"/>
<rect x="110.90" y="438.10" width="2.6" height="2.6" fill="#4fe07a"/>
<rect x="110.90" y="453.10" width="2.6" height="2.6" fill="#31a354"/>
<rect x="110.90" y="471.00" width="2.6" height="2.6" fill="#c6dbef"/>
<rect x="110.90" y="486.40" width="2.6" height="2.6" fill="#c7e9c0"/>
<rect x="110.90" y="499.40" width="2.6" height="2.6" fill="#d9d9d9"/>
<rect x="110.90" y="512.30" width="2.6" height="2.6" fill="#dadaeb"/>
<rect x="234.70" y="382.60" width="7.35" height="1.70" fill="#7a60a0"/>
<rect x="234.70" y="384.30" width="7.35" height="0.80" fill="#9a8878"/>
<rect x="234.70" y="385.10" width="7.35" height="1.40" fill="#709080"/>
<rect x="234.70" y="386.50" width="7.35" height="1.10" fill="#8090a8"/>
<rect x="234.70" y="387.60" width="7.35" height="1.10" fill="#a0a0c0"/>
<rect x="234.70" y="388.70" width="7.35" height="1.40" fill="#dcd4d4"/>
<rect x="234.70" y="390.10" width="7.35" height="1.10" fill="#5050a0"/>
<rect x="234.70" y="391.20" width="7.35" height="1.20" fill="#f08030"/>
<rect x="234.70" y="392.40" width="7.35" height="2.40" fill="#e6550d"/>
<rect x="234.70" y="394.80" width="7.35" height="4.10" fill="#e6e6e6"/>
<rect x="234.70" y="398.90" width="7.35" height="1.90" fill="#636363"/>
<rect x="234.70" y="400.80" width="7.35" height="3.40" fill="#9ecae1"/>
<rect x="234.70" y="404.20" width="7.35" height="5.30" fill="#fdd0a2"/>
<rect x="234.70" y="409.50" width="7.35" height="4.10" fill="#969696"/>
<rect x="234.70" y="413.60" width="7.35" height="7.10" fill="#bdbdbd"/>
<rect x="234.70" y="420.70" width="7.35" height="8.60" fill="#74c476"/>
<rect x="234.70" y="429.30" width="7.35" height="4.40" fill="#69669b"/>
<rect x="234.70" y="433.70" width="7.35" height="7.00" fill="#9e9ac8"/>
<rect x="234.70" y="440.70" width="7.35" height="13.60" fill="#3182bd"/>
<rect x="234.70" y="454.30" width="7.35" height="9.80" fill="#fd8d3c"/>
<rect x="234.70" y="464.10" width="7.35" height="26.40" fill="#6baed6"/>
<rect x="234.70" y="490.50" width="7.35" height="31.50" fill="#756bb1"/>
<rect x="243.40" y="382.60" width="7.35" height="1.70" fill="#708878"/>
<rect x="243.40" y="384.30" width="7.35" height="1.50" fill="#3a6a60"/>
<rect x="243.40" y="385.80" width="7.35" height="1.20" fill="#7098b8"/>
<rect x="243.40" y="387.00" width="7.35" height="1.10" fill="#80b0d0"/>
<rect x="243.40" y="388.10" width="7.35" height="1.40" fill="#f09040"/>
<rect x="243.40" y="389.50" width="7.35" height="1.30" fill="#f0e0d8"/>
<rect x="243.40" y="390.80" width="7.35" height="1.60" fill="#e6550d"/>
<rect x="243.40" y="392.40" width="7.35" height="1.90" fill="#ececec"/>
<rect x="243.40" y="394.30" width="7.35" height="3.50" fill="#636363"/>
<rect x="243.40" y="397.80" width="7.35" height="1.50" fill="#969696"/>
<rect x="243.40" y="399.30" width="7.35" height="4.30" fill="#9ecae1"/>
<rect x="243.40" y="403.60" width="7.35" height="1.80" fill="#fdd0a2"/>
<rect x="243.40" y="405.40" width="7.35" height="4.30" fill="#969696"/>
<rect x="243.40" y="409.70" width="7.35" height="4.60" fill="#bdbdbd"/>
<rect x="243.40" y="414.30" width="7.35" height="7.00" fill="#74c476"/>
<rect x="243.40" y="421.30" width="7.35" height="5.50" fill="#69669b"/>
<rect x="243.40" y="426.80" width="7.35" height="6.90" fill="#9e9ac8"/>
<rect x="243.40" y="433.70" width="7.35" height="14.00" fill="#3182bd"/>
<rect x="243.40" y="447.70" width="7.35" height="18.20" fill="#fd8d3c"/>
<rect x="243.40" y="465.90" width="7.35" height="17.60" fill="#6baed6"/>
<rect x="243.40" y="483.50" width="7.35" height="38.50" fill="#756bb1"/>
<rect x="252.10" y="382.60" width="7.35" height="1.90" fill="#808088"/>
<rect x="252.10" y="384.50" width="7.35" height="0.90" fill="#7088a8"/>
<rect x="252.10" y="385.40" width="7.35" height="1.20" fill="#c07040"/>
<rect x="252.10" y="386.60" width="7.35" height="1.30" fill="#703050"/>
<rect x="252.10" y="387.90" width="7.35" height="1.10" fill="#c0c0e0"/>
<rect x="252.10" y="389.00" width="7.35" height="1.80" fill="#808080"/>
<rect x="252.10" y="390.80" width="7.35" height="10.40" fill="#9ecae1"/>
<rect x="252.10" y="401.20" width="7.35" height="4.60" fill="#fdd0a2"/>
<rect x="252.10" y="405.80" width="7.35" height="5.10" fill="#969696"/>
<rect x="252.10" y="410.90" width="7.35" height="5.50" fill="#bdbdbd"/>
<rect x="252.10" y="416.40" width="7.35" height="5.50" fill="#74c476"/>
<rect x="252.10" y="421.90" width="7.35" height="2.70" fill="#69669b"/>
<rect x="252.10" y="424.60" width="7.35" height="11.30" fill="#9e9ac8"/>
<rect x="252.10" y="435.90" width="7.35" height="10.70" fill="#3182bd"/>
<rect x="252.10" y="446.60" width="7.35" height="5.90" fill="#fd8d3c"/>
<rect x="252.10" y="452.50" width="7.35" height="35.30" fill="#6baed6"/>
<rect x="252.10" y="487.80" width="7.35" height="34.20" fill="#756bb1"/>
<rect x="260.80" y="382.60" width="7.35" height="1.90" fill="#b07040"/>
<rect x="260.80" y="384.50" width="7.35" height="1.10" fill="#709088"/>
<rect x="260.80" y="385.60" width="7.35" height="1.20" fill="#5090c0"/>
<rect x="260.80" y="386.80" width="7.35" height="1.30" fill="#f08030"/>
<rect x="260.80" y="388.10" width="7.35" height="1.00" fill="#6050a0"/>
<rect x="260.80" y="389.10" width="7.35" height="0.90" fill="#a04030"/>
<rect x="260.80" y="390.00" width="7.35" height="1.60" fill="#f0d0b0"/>
<rect x="260.80" y="391.60" width="7.35" height="2.20" fill="#636363"/>
<rect x="260.80" y="393.80" width="7.35" height="5.20" fill="#9ecae1"/>
<rect x="260.80" y="399.00" width="7.35" height="4.20" fill="#fdd0a2"/>
<rect x="260.80" y="403.20" width="7.35" height="3.10" fill="#969696"/>
<rect x="260.80" y="406.30" width="7.35" height="5.20" fill="#bdbdbd"/>
<rect x="260.80" y="411.50" width="7.35" height="5.50" fill="#74c476"/>
<rect x="260.80" y="417.00" width="7.35" height="4.30" fill="#69669b"/>
<rect x="260.80" y="421.30" width="7.35" height="14.60" fill="#9e9ac8"/>
<rect x="260.80" y="435.90" width="7.35" height="19.00" fill="#3182bd"/>
<rect x="260.80" y="454.90" width="7.35" height="10.30" fill="#fd8d3c"/>
<rect x="260.80" y="465.20" width="7.35" height="24.20" fill="#6baed6"/>
<rect x="260.80" y="489.40" width="7.35" height="32.60" fill="#756bb1"/>
<rect x="269.50" y="382.60" width="7.35" height="1.50" fill="#b09a80"/>
<rect x="269.50" y="384.10" width="7.35" height="1.20" fill="#d9d9d9"/>
<rect x="269.50" y="385.30" width="7.35" height="1.50" fill="#3182bd"/>
<rect x="269.50" y="386.80" width="7.35" height="1.00" fill="#fdd0a2"/>
<rect x="269.50" y="387.80" width="7.35" height="1.20" fill="#636363"/>
<rect x="269.50" y="389.00" width="7.35" height="1.80" fill="#e6550d"/>
<rect x="269.50" y="390.80" width="7.35" height="1.80" fill="#e6e6e6"/>
<rect x="269.50" y="392.60" width="7.35" height="1.90" fill="#636363"/>
<rect x="269.50" y="394.50" width="7.35" height="2.40" fill="#9ecae1"/>
<rect x="269.50" y="396.90" width="7.35" height="4.30" fill="#fdd0a2"/>
<rect x="269.50" y="401.20" width="7.35" height="3.60" fill="#969696"/>
<rect x="269.50" y="404.80" width="7.35" height="4.30" fill="#bdbdbd"/>
<rect x="269.50" y="409.10" width="7.35" height="6.70" fill="#74c476"/>
<rect x="269.50" y="415.80" width="7.35" height="11.90" fill="#69669b"/>
<rect x="269.50" y="427.70" width="7.35" height="9.90" fill="#9e9ac8"/>
<rect x="269.50" y="437.60" width="7.35" height="12.90" fill="#3182bd"/>
<rect x="269.50" y="450.50" width="7.35" height="19.10" fill="#fd8d3c"/>
<rect x="269.50" y="469.60" width="7.35" height="21.30" fill="#6baed6"/>
<rect x="269.50" y="490.90" width="7.35" height="31.10" fill="#756bb1"/>
<rect x="278.20" y="382.60" width="7.35" height="1.50" fill="#a09080"/>
<rect x="278.20" y="384.10" width="7.35" height="1.20" fill="#8aa890"/>
<rect x="278.20" y="385.30" width="7.35" height="1.50" fill="#3182bd"/>
<rect x="278.20" y="386.80" width="7.35" height="1.00" fill="#969696"/>
<rect x="278.20" y="387.80" width="7.35" height="1.20" fill="#dadaeb"/>
<rect x="278.20" y="389.00" width="7.35" height="1.20" fill="#4a3a6a"/>
<rect x="278.20" y="390.20" width="7.35" height="2.20" fill="#e6550d"/>
<rect x="278.20" y="392.40" width="7.35" height="2.10" fill="#e4e4f0"/>
<rect x="278.20" y="394.50" width="7.35" height="3.60" fill="#636363"/>
<rect x="278.20" y="398.10" width="7.35" height="3.10" fill="#9ecae1"/>
<rect x="278.20" y="401.20" width="7.35" height="3.90" fill="#fdd0a2"/>
<rect x="278.20" y="405.10" width="7.35" height="3.40" fill="#969696"/>
<rect x="278.20" y="408.50" width="7.35" height="5.50" fill="#bdbdbd"/>
<rect x="278.20" y="414.00" width="7.35" height="7.70" fill="#74c476"/>
<rect x="278.20" y="421.70" width="7.35" height="9.80" fill="#69669b"/>
<rect x="278.20" y="431.50" width="7.35" height="15.70" fill="#9e9ac8"/>
<rect x="278.20" y="447.20" width="7.35" height="8.60" fill="#3182bd"/>
<rect x="278.20" y="455.80" width="7.35" height="13.40" fill="#fd8d3c"/>
<rect x="278.20" y="469.20" width="7.35" height="21.70" fill="#6baed6"/>
<rect x="278.20" y="490.90" width="7.35" height="31.10" fill="#756bb1"/>
<rect x="286.90" y="382.60" width="7.35" height="1.50" fill="#b07a50"/>
<rect x="286.90" y="384.10" width="7.35" height="1.50" fill="#8aa890"/>
<rect x="286.90" y="385.60" width="7.35" height="1.20" fill="#3182bd"/>
<rect x="286.90" y="386.80" width="7.35" height="1.20" fill="#969696"/>
<rect x="286.90" y="388.00" width="7.35" height="1.20" fill="#4a3a6a"/>
<rect x="286.90" y="389.20" width="7.35" height="2.80" fill="#e6550d"/>
<rect x="286.90" y="392.00" width="7.35" height="3.10" fill="#e6e6e6"/>
<rect x="286.90" y="395.10" width="7.35" height="3.00" fill="#636363"/>
<rect x="286.90" y="398.10" width="7.35" height="2.80" fill="#9ecae1"/>
<rect x="286.90" y="400.90" width="7.35" height="3.00" fill="#fdd0a2"/>
<rect x="286.90" y="403.90" width="7.35" height="3.40" fill="#969696"/>
<rect x="286.90" y="407.30" width="7.35" height="4.80" fill="#bdbdbd"/>
<rect x="286.90" y="412.10" width="7.35" height="6.80" fill="#74c476"/>
<rect x="286.90" y="418.90" width="7.35" height="4.50" fill="#69669b"/>
<rect x="286.90" y="423.40" width="7.35" height="5.90" fill="#9e9ac8"/>
<rect x="286.90" y="429.30" width="7.35" height="13.30" fill="#3182bd"/>
<rect x="286.90" y="442.60" width="7.35" height="14.30" fill="#fd8d3c"/>
<rect x="286.90" y="456.90" width="7.35" height="16.50" fill="#6baed6"/>
<rect x="286.90" y="473.40" width="7.35" height="48.60" fill="#756bb1"/>
<path d="M233.9 382.5V522.0" class="axl"/>
<path d="M233.9 522.3H295.6" class="axb"/>
<path d="M230.90 522.00H233.9M232.60 519.21H233.9M232.60 516.42H233.9M232.60 513.63H233.9M232.60 510.84H233.9M230.90 508.05H233.9M232.60 505.26H233.9M232.60 502.47H233.9M232.60 499.68H233.9M232.60 496.89H233.9M230.90 494.10H233.9M232.60 491.31H233.9M232.60 488.52H233.9M232.60 485.73H233.9M232.60 482.94H233.9M230.90 480.15H233.9M232.60 477.36H233.9M232.60 474.57H233.9M232.60 471.78H233.9M232.60 468.99H233.9M230.90 466.20H233.9M232.60 463.41H233.9M232.60 460.62H233.9M232.60 457.83H233.9M232.60 455.04H233.9M230.90 452.25H233.9M232.60 449.46H233.9M232.60 446.67H233.9M232.60 443.88H233.9M232.60 441.09H233.9M230.90 438.30H233.9M232.60 435.51H233.9M232.60 432.72H233.9M232.60 429.93H233.9M232.60 427.14H233.9M230.90 424.35H233.9M232.60 421.56H233.9M232.60 418.77H233.9M232.60 415.98H233.9M232.60 413.19H233.9M230.90 410.40H233.9M232.60 407.61H233.9M232.60 404.82H233.9M232.60 402.03H233.9M232.60 399.24H233.9M230.90 396.45H233.9M232.60 393.66H233.9M232.60 390.87H233.9M232.60 388.08H233.9M232.60 385.29H233.9M230.90 382.50H233.9" class="tk"/>
<rect x="304.30" y="390.20" width="2.6" height="2.6" fill="#969696"/>
<rect x="304.30" y="405.40" width="2.6" height="2.6" fill="#bdbdbd"/>
<rect x="304.30" y="420.70" width="2.6" height="2.6" fill="#74c476"/>
<rect x="304.30" y="433.60" width="2.6" height="2.6" fill="#69669b"/>
<rect x="304.30" y="450.90" width="2.6" height="2.6" fill="#9e9ac8"/>
<rect x="304.30" y="470.40" width="2.6" height="2.6" fill="#3182bd"/>
<rect x="304.30" y="485.70" width="2.6" height="2.6" fill="#fd8d3c"/>
<rect x="304.30" y="498.70" width="2.6" height="2.6" fill="#6baed6"/>
<rect x="304.30" y="511.60" width="2.6" height="2.6" fill="#756bb1"/>
</g>
<g class="tx">
<text x="7.5" y="11.8" class="pl">(A)</text>
<text x="19.50" y="154.30" class="yt">0%</text>
<text x="19.50" y="141.35" class="yt">10%</text>
<text x="19.50" y="128.40" class="yt">20%</text>
<text x="19.50" y="115.45" class="yt">30%</text>
<text x="19.50" y="102.50" class="yt">40%</text>
<text x="19.50" y="89.55" class="yt">50%</text>
<text x="19.50" y="76.60" class="yt">60%</text>
<text x="19.50" y="63.65" class="yt">70%</text>
<text x="19.50" y="50.70" class="yt">80%</text>
<text x="19.50" y="37.75" class="yt">90%</text>
<text transform="translate(6.7 88.2) rotate(-90)" class="ab">Abundance</text>
<text transform="translate(28.98 157.30) rotate(42.5)" class="xl" dx="0.1" dy="2.2">ATCC-30010</text>
<text transform="translate(40.00 157.30) rotate(42.5)" class="xl" dx="0.1" dy="2.2">ATCC-50492</text>
<text transform="translate(51.03 157.30) rotate(42.5)" class="xl" dx="0.1" dy="2.2">NCKUH-A</text>
<text transform="translate(62.06 157.30) rotate(42.5)" class="xl" dx="0.1" dy="2.2">NCKUH-B</text>
<text transform="translate(73.09 157.30) rotate(42.5)" class="xl" dx="0.1" dy="2.2">NCKUH-C</text>
<text transform="translate(84.12 157.30) rotate(42.5)" class="xl" dx="0.1" dy="2.2">NCKUH-D</text>
<text transform="translate(95.15 157.30) rotate(42.5)" class="xl" dx="0.1" dy="2.2">NCKUH-H</text>
<text class="lg" transform="translate(118.6 110.65) scale(1.0 1)"><tspan x="0">k__Bacteria, p__Nitrospirae</tspan></text>
<text class="lg" transform="translate(118.6 116.34) scale(1.0 1)"><tspan x="0">k__Bacteria, p__Gemmatimonadetes</tspan></text>
<text class="lg" transform="translate(118.6 122.03) scale(1.0 1)"><tspan x="0">k__Bacteria, p__Deferribacteres</tspan></text>
<text class="lg" transform="translate(118.6 127.72) scale(1.0 1)"><tspan x="0">k__Bacteria, p__Actinobacteria</tspan></text>
<text class="lg" transform="translate(118.6 133.41) scale(1.0 1)"><tspan x="0">k__Bacteria, p__Proteobacteria</tspan></text>
<text class="lg" transform="translate(118.6 139.10) scale(1.0 1)"><tspan x="0">k__Bacteria, p__Verrucomicrobia</tspan></text>
<text class="lg" transform="translate(118.6 144.79) scale(1.0 1)"><tspan x="0">k__Bacteria, p__Bacteroidetes</tspan></text>
<text class="lg" transform="translate(118.6 150.48) scale(1.0 1)"><tspan x="0">k__Bacteria, p__Firmicutes</tspan></text>
<text x="206.2" y="11.8" class="pl">(B)</text>
<text x="230.70" y="154.30" class="yt">0%</text>
<text x="230.70" y="141.35" class="yt">10%</text>
<text x="230.70" y="128.40" class="yt">20%</text>
<text x="230.70" y="115.45" class="yt">30%</text>
<text x="230.70" y="102.50" class="yt">40%</text>
<text x="230.70" y="89.55" class="yt">50%</text>
<text x="230.70" y="76.60" class="yt">60%</text>
<text x="230.70" y="63.65" class="yt">70%</text>
<text x="230.70" y="50.70" class="yt">80%</text>
<text x="230.70" y="37.75" class="yt">90%</text>
<text transform="translate(217.6 88.2) rotate(-90)" class="ab">Abundance</text>
<text transform="translate(240.30 157.30) rotate(42.5)" class="xl" dx="0.1" dy="2.2">ATCC-30010</text>
<text transform="translate(251.35 157.30) rotate(42.5)" class="xl" dx="0.1" dy="2.2">ATCC-50492</text>
<text transform="translate(262.40 157.30) rotate(42.5)" class="xl" dx="0.1" dy="2.2">NCKUH-A</text>
<text transform="translate(273.45 157.30) rotate(42.5)" class="xl" dx="0.1" dy="2.2">NCKUH-B</text>
<text transform="translate(284.50 157.30) rotate(42.5)" class="xl" dx="0.1" dy="2.2">NCKUH-C</text>
<text transform="translate(295.55 157.30) rotate(42.5)" class="xl" dx="0.1" dy="2.2">NCKUH-D</text>
<text transform="translate(306.60 157.30) rotate(42.5)" class="xl" dx="0.1" dy="2.2">NCKUH-H</text>
<text class="lg" transform="translate(329.0 65.15) scale(1.0 1)"><tspan x="0">k__Bacteria, p__Proteobacteria,</tspan><tspan x="0" dy="4.0">c__Deltaproteobacteria</tspan></text>
<text class="lg" transform="translate(329.0 75.45) scale(1.0 1)"><tspan x="0">k__Bacteria, p__Bacteroidetes, c__</tspan><tspan x="0" dy="4.0">[Saprospirae]</tspan></text>
<text class="lg" transform="translate(329.0 85.45) scale(1.0 1)"><tspan x="0">k__Bacteria, p__Firmicutes,</tspan><tspan x="0" dy="4.0">c__Erysipelotrichi</tspan></text>
<text class="lg" transform="translate(329.0 95.25) scale(1.0 1)"><tspan x="0">k__Bacteria, p__Bacteroidetes,</tspan><tspan x="0" dy="4.0">c__Flavobacteriia</tspan></text>
<text class="lg" transform="translate(329.0 105.25) scale(1.0 1)"><tspan x="0">k__Bacteria, p__Actinobacteria,</tspan><tspan x="0" dy="4.0">c__Coriobacteriia</tspan></text>
<text class="lg" transform="translate(329.0 115.15) scale(1.0 1)"><tspan x="0">k__Bacteria, p__Proteobacteria,</tspan><tspan x="0" dy="4.0">c__Gammaproteobacteria</tspan></text>
<text class="lg" transform="translate(329.0 125.25) scale(1.0 1)"><tspan x="0">k__Bacteria, p__Verrucomicrobia,</tspan><tspan x="0" dy="4.0">c__Verrucomicrobiae</tspan></text>
<text class="lg" transform="translate(329.0 134.95) scale(1.0 1)"><tspan x="0">k__Bacteria, p__Firmicutes, c__Bacilli</tspan></text>
<text class="lg" transform="translate(329.0 140.75) scale(1.0 1)"><tspan x="0">k__Bacteria, p__Bacteroidetes,</tspan><tspan x="0" dy="4.0">c__Bacteroidia</tspan></text>
<text class="lg" transform="translate(329.0 150.75) scale(1.0 1)"><tspan x="0">k__Bacteria, p__Firmicutes, c__Clostridia</tspan></text>
<text x="7.6" y="193.8" class="pl">(C)</text>
<text x="21.30" y="335.80" class="yt">0%</text>
<text x="21.30" y="322.90" class="yt">10%</text>
<text x="21.30" y="310.00" class="yt">20%</text>
<text x="21.30" y="297.10" class="yt">30%</text>
<text x="21.30" y="284.20" class="yt">40%</text>
<text x="21.30" y="271.30" class="yt">50%</text>
<text x="21.30" y="258.40" class="yt">60%</text>
<text x="21.30" y="245.50" class="yt">70%</text>
<text x="21.30" y="232.60" class="yt">80%</text>
<text x="21.30" y="219.70" class="yt">90%</text>
<text transform="translate(6.7 270.0) rotate(-90)" class="ab">Abundance</text>
<text transform="translate(30.80 338.80) rotate(42.5)" class="xl" dx="0.1" dy="2.2">ATCC-30010</text>
<text transform="translate(41.92 338.80) rotate(42.5)" class="xl" dx="0.1" dy="2.2">ATCC-50492</text>
<text transform="translate(53.04 338.80) rotate(42.5)" class="xl" dx="0.1" dy="2.2">NCKUH-A</text>
<text transform="translate(64.16 338.80) rotate(42.5)" class="xl" dx="0.1" dy="2.2">NCKUH-B</text>
<text transform="translate(75.28 338.80) rotate(42.5)" class="xl" dx="0.1" dy="2.2">NCKUH-C</text>
<text transform="translate(86.40 338.80) rotate(42.5)" class="xl" dx="0.1" dy="2.2">NCKUH-D</text>
<text transform="translate(97.52 338.80) rotate(42.5)" class="xl" dx="0.1" dy="2.2">NCKUH-H</text>
<text class="lg" transform="translate(118.5 229.55) scale(1.025 1)"><tspan x="0">k__Bacteria, p__Proteobacteria,</tspan><tspan x="0" dy="4.2">c__Gammaproteobacteria,</tspan><tspan x="0" dy="4.2">o__Alteromonadales</tspan></text>
<text class="lg" transform="translate(118.5 244.05) scale(1.025 1)"><tspan x="0">k__Bacteria, p__Bacteroidetes,</tspan><tspan x="0" dy="4.2">c__Flavobacteriia, o__Flavobacteriales</tspan></text>
<text class="lg" transform="translate(118.5 254.15) scale(1.025 1)"><tspan x="0">k__Bacteria, p__Actinobacteria,</tspan><tspan x="0" dy="4.2">c__Coriobacteriia, o__Coriobacteriales</tspan></text>
<text class="lg" transform="translate(118.5 264.05) scale(1.025 1)"><tspan x="0">k__Bacteria, p__Proteobacteria,</tspan><tspan x="0" dy="4.2">c__Gammaproteobacteria, o__Vibrionales</tspan></text>
<text class="lg" transform="translate(118.5 274.15) scale(1.025 1)"><tspan x="0">k__Bacteria, p__Proteobacteria,</tspan><tspan x="0" dy="4.2">c__Gammaproteobacteria, o__</tspan></text>
<text class="lg" transform="translate(118.5 284.25) scale(1.025 1)"><tspan x="0">k__Bacteria, p__Firmicutes, c__Bacilli,</tspan><tspan x="0" dy="4.2">o__Turicibacterales</tspan></text>
<text class="lg" transform="translate(118.5 293.85) scale(1.025 1)"><tspan x="0">k__Bacteria, p__Verrucomicrobia,</tspan><tspan x="0" dy="4.2">c__Verrucomicrobiae,</tspan><tspan x="0" dy="4.2">o__Verrucomicrobiales</tspan></text>
<text class="lg" transform="translate(118.5 308.25) scale(1.025 1)"><tspan x="0">k__Bacteria, p__Firmicutes, c__Bacilli,</tspan><tspan x="0" dy="4.2">o__Lactobacillales</tspan></text>
<text class="lg" transform="translate(118.5 318.05) scale(1.025 1)"><tspan x="0">k__Bacteria, p__Bacteroidetes,</tspan><tspan x="0" dy="4.2">c__Bacteroidia, o__Bacteroidales</tspan></text>
<text class="lg" transform="translate(118.5 328.35) scale(1.025 1)"><tspan x="0">k__Bacteria, p__Firmicutes, c__Clostridia,</tspan><tspan x="0" dy="4.2">o__Clostridiales</tspan></text>
<text x="206.4" y="193.8" class="pl">(D)</text>
<text x="234.10" y="334.30" class="yt">0%</text>
<text x="234.10" y="320.40" class="yt">10%</text>
<text x="234.10" y="306.50" class="yt">20%</text>
<text x="234.10" y="292.60" class="yt">30%</text>
<text x="234.10" y="278.70" class="yt">40%</text>
<text x="234.10" y="264.80" class="yt">50%</text>
<text x="234.10" y="250.90" class="yt">60%</text>
<text x="234.10" y="237.00" class="yt">70%</text>
<text x="234.10" y="223.10" class="yt">80%</text>
<text x="234.10" y="209.20" class="yt">90%</text>
<text transform="translate(221.8 263.5) rotate(-90)" class="ab">Abundance</text>
<text transform="translate(243.85 338.20) rotate(47)" class="xl xd" dx="0.1" dy="2.2">ATCC-30010</text>
<text transform="translate(254.75 338.20) rotate(47)" class="xl xd" dx="0.1" dy="2.2">ATCC-50492</text>
<text transform="translate(265.65 338.20) rotate(47)" class="xl xd" dx="0.1" dy="2.2">NCKUH-A</text>
<text transform="translate(276.55 338.20) rotate(47)" class="xl xd" dx="0.1" dy="2.2">NCKUH-B</text>
<text transform="translate(287.45 338.20) rotate(47)" class="xl xd" dx="0.1" dy="2.2">NCKUH-C</text>
<text transform="translate(298.35 338.20) rotate(47)" class="xl xd" dx="0.1" dy="2.2">NCKUH-D</text>
<text transform="translate(309.25 338.20) rotate(47)" class="xl xd" dx="0.1" dy="2.2">NCKUH-H</text>
<text class="lg" transform="translate(329.8 220.58) scale(1.0 1)"><tspan x="0">k__Bacteria, p__Proteobacteria,</tspan><tspan x="0" dy="4.34">c__Gammaproteobacteria, o__, f__</tspan></text>
<text class="lg" transform="translate(329.8 230.98) scale(1.0 1)"><tspan x="0">k__Bacteria, p__Firmicutes, c__Bacilli,</tspan><tspan x="0" dy="4.34">o__Turicibacterales, f__Turicibacteraceae</tspan></text>
<text class="lg" transform="translate(329.8 241.28) scale(1.0 1)"><tspan x="0">k__Bacteria, p__Firmicutes, c__Clostridia,</tspan><tspan x="0" dy="4.34">o__Clostridiales, f__Clostridiaceae</tspan></text>
<text class="lg" transform="translate(329.8 252.24) scale(1.0 1)"><tspan x="0">k__Bacteria, p__Verrucomicrobia,</tspan><tspan x="0" dy="4.34">c__Verrucomicrobiae,</tspan><tspan x="0" dy="4.34">o__Verrucomicrobiales,</tspan><tspan x="0" dy="4.34">f__Verrucomicrobiaceae</tspan></text>
<text class="lg" transform="translate(329.8 272.08) scale(1.0 1)"><tspan x="0">k__Bacteria, p__Firmicutes, c__Clostridia,</tspan><tspan x="0" dy="4.34">o__Clostridiales, f__Lachnospiraceae</tspan></text>
<text class="lg" transform="translate(329.8 282.28) scale(1.0 1)"><tspan x="0">k__Bacteria, p__Firmicutes, c__Bacilli,</tspan><tspan x="0" dy="4.34">o__Lactobacillales, f__Lactobacillaceae</tspan></text>
<text class="lg" transform="translate(329.8 292.88) scale(1.0 1)"><tspan x="0">k__Bacteria, p__Firmicutes, c__Clostridia,</tspan><tspan x="0" dy="4.34">o__Clostridiales, f__Peptostreptococcaceae</tspan></text>
<text class="lg" transform="translate(329.8 303.78) scale(1.0 1)"><tspan x="0">k__Bacteria, p__Firmicutes, c__Clostridia,</tspan><tspan x="0" dy="4.34">o__Clostridiales, f__Ruminococcaceae</tspan></text>
<text class="lg" transform="translate(329.8 314.28) scale(1.0 1)"><tspan x="0">k__Bacteria, p__Firmicutes, c__Clostridia,</tspan><tspan x="0" dy="4.34">o__Clostridiales, f__</tspan></text>
<text class="lg" transform="translate(329.8 324.98) scale(1.0 1)"><tspan x="0">k__Bacteria, p__Bacteroidetes,</tspan><tspan x="0" dy="4.34">c__Bacteroidia, o__Bacteroidales, f__S24-7</tspan></text>
<text x="7.7" y="373.0" class="pl">(E)</text>
<text x="19.50" y="523.30" class="yt">0%</text>
<text x="19.50" y="509.35" class="yt">10%</text>
<text x="19.50" y="495.40" class="yt">20%</text>
<text x="19.50" y="481.45" class="yt">30%</text>
<text x="19.50" y="467.50" class="yt">40%</text>
<text x="19.50" y="453.55" class="yt">50%</text>
<text x="19.50" y="439.60" class="yt">60%</text>
<text x="19.50" y="425.65" class="yt">70%</text>
<text x="19.50" y="411.70" class="yt">80%</text>
<text x="19.50" y="397.75" class="yt">90%</text>
<text transform="translate(6.7 452.2) rotate(-90)" class="ab">Abundance</text>
<text transform="translate(29.32 527.20) rotate(47)" class="xl xd" dx="0.1" dy="2.2">ATCC-30010</text>
<text transform="translate(40.38 527.20) rotate(47)" class="xl xd" dx="0.1" dy="2.2">ATCC-50492</text>
<text transform="translate(51.43 527.20) rotate(47)" class="xl xd" dx="0.1" dy="2.2">NCKUH-A</text>
<text transform="translate(62.48 527.20) rotate(47)" class="xl xd" dx="0.1" dy="2.2">NCKUH-B</text>
<text transform="translate(73.52 527.20) rotate(47)" class="xl xd" dx="0.1" dy="2.2">NCKUH-C</text>
<text transform="translate(84.58 527.20) rotate(47)" class="xl xd" dx="0.1" dy="2.2">NCKUH-D</text>
<text transform="translate(95.63 527.20) rotate(47)" class="xl xd" dx="0.1" dy="2.2">NCKUH-H</text>
<text class="lg" transform="translate(118.9 386.41) scale(1.0 1)"><tspan x="0">k__Bacteria, p__Firmicutes, c__Clostridia,</tspan><tspan x="0" dy="4.34">o__Clostridiales, f__Lachnospiraceae, g__</tspan><tspan x="0" dy="4.34">[Ruminococcus]</tspan></text>
<text class="lg" transform="translate(118.9 401.21) scale(1.0 1)"><tspan x="0">k__Bacteria, p__Firmicutes, c__Clostridia,</tspan><tspan x="0" dy="4.34">o__Clostridiales, f__Ruminococcaceae,</tspan><tspan x="0" dy="4.34">g__Oscillospira</tspan></text>
<text class="lg" transform="translate(118.9 416.88) scale(1.0 1)"><tspan x="0">k__Bacteria, p__Firmicutes, c__Clostridia,</tspan><tspan x="0" dy="4.34">o__Clostridiales, f__Lachnospiraceae, g__</tspan></text>
<text class="lg" transform="translate(118.9 427.68) scale(1.0 1)"><tspan x="0">k__Bacteria, p__Firmicutes, c__Clostridia,</tspan><tspan x="0" dy="4.34">o__Clostridiales, f__Ruminococcaceae, g__</tspan></text>
<text class="lg" transform="translate(118.9 438.48) scale(1.0 1)"><tspan x="0">k__Bacteria, p__Firmicutes, c__Clostridia,</tspan><tspan x="0" dy="4.34">o__Clostridiales, f__Clostridiaceae, g__</tspan></text>
<text class="lg" transform="translate(118.9 449.14) scale(1.0 1)"><tspan x="0">k__Bacteria, p__Verrucomicrobia,</tspan><tspan x="0" dy="4.34">c__Verrucomicrobiae,</tspan><tspan x="0" dy="4.34">o__Verrucomicrobiales,</tspan><tspan x="0" dy="4.34">f__Verrucomicrobiaceae, g__Akkermansia</tspan></text>
<text class="lg" transform="translate(118.9 469.21) scale(1.0 1)"><tspan x="0">k__Bacteria, p__Firmicutes, c__Bacilli,</tspan><tspan x="0" dy="4.34">o__Lactobacillales, f__Lactobacillaceae,</tspan><tspan x="0" dy="4.34">g__Lactobacillus</tspan></text>
<text class="lg" transform="translate(118.9 484.61) scale(1.0 1)"><tspan x="0">k__Bacteria, p__Firmicutes, c__Clostridia,</tspan><tspan x="0" dy="4.34">o__Clostridiales, f__Peptostreptococcaceae,</tspan><tspan x="0" dy="4.34">g__</tspan></text>
<text class="lg" transform="translate(118.9 499.78) scale(1.0 1)"><tspan x="0">k__Bacteria, p__Firmicutes, c__Clostridia,</tspan><tspan x="0" dy="4.34">o__Clostridiales, f__, g__</tspan></text>
<text class="lg" transform="translate(118.9 510.51) scale(1.0 1)"><tspan x="0">k__Bacteria, p__Bacteroidetes,</tspan><tspan x="0" dy="4.34">c__Bacteroidia, o__Bacteroidales, f__S24-</tspan><tspan x="0" dy="4.34">7, g__</tspan></text>
<text x="207.4" y="373.0" class="pl">(F)</text>
<text x="230.60" y="523.30" class="yt">0%</text>
<text x="230.60" y="509.35" class="yt">10%</text>
<text x="230.60" y="495.40" class="yt">20%</text>
<text x="230.60" y="481.45" class="yt">30%</text>
<text x="230.60" y="467.50" class="yt">40%</text>
<text x="230.60" y="453.55" class="yt">50%</text>
<text x="230.60" y="439.60" class="yt">60%</text>
<text x="230.60" y="425.65" class="yt">70%</text>
<text x="230.60" y="411.70" class="yt">80%</text>
<text x="230.60" y="397.75" class="yt">90%</text>
<text transform="translate(220.6 452.2) rotate(-90)" class="ab">Abundance</text>
<text transform="translate(238.07 527.00) rotate(52.5)" class="xl xf" dx="0.1" dy="2.2">ATCC-30010</text>
<text transform="translate(246.77 527.00) rotate(52.5)" class="xl xf" dx="0.1" dy="2.2">ATCC-50492</text>
<text transform="translate(255.47 527.00) rotate(52.5)" class="xl xf" dx="0.1" dy="2.2">NCKUH-A</text>
<text transform="translate(264.18 527.00) rotate(52.5)" class="xl xf" dx="0.1" dy="2.2">NCKUH-B</text>
<text transform="translate(272.88 527.00) rotate(52.5)" class="xl xf" dx="0.1" dy="2.2">NCKUH-C</text>
<text transform="translate(281.57 527.00) rotate(52.5)" class="xl xf" dx="0.1" dy="2.2">NCKUH-D</text>
<text transform="translate(290.27 527.00) rotate(52.5)" class="xl xf" dx="0.1" dy="2.2">NCKUH-H</text>
<text class="lg" transform="translate(313.2 388.50) scale(1.2 1)"><tspan x="0">k__Bacteria, p__Firmicutes, c__Clostridia,</tspan><tspan x="0" dy="4.25">o__Clostridiales, f__Ruminococcaceae,</tspan><tspan x="0" dy="4.25">g__Oscillospira, s__</tspan></text>
<text class="lg" transform="translate(313.2 403.70) scale(1.2 1)"><tspan x="0">k__Bacteria, p__Firmicutes, c__Clostridia,</tspan><tspan x="0" dy="4.25">o__Clostridiales, f__Lachnospiraceae, g__,</tspan><tspan x="0" dy="4.25">s__</tspan></text>
<text class="lg" transform="translate(313.2 419.00) scale(1.2 1)"><tspan x="0">k__Bacteria, p__Firmicutes, c__Clostridia,</tspan><tspan x="0" dy="4.25">o__Clostridiales, f__Ruminococcaceae, g__,</tspan><tspan x="0" dy="4.25">s__</tspan></text>
<text class="lg" transform="translate(313.2 434.02) scale(1.2 1)"><tspan x="0">k__Bacteria, p__Firmicutes, c__Clostridia,</tspan><tspan x="0" dy="4.25">o__Clostridiales, f__Clostridiaceae, g__, s__</tspan></text>
<text class="lg" transform="translate(313.2 444.95) scale(1.2 1)"><tspan x="0">k__Bacteria, p__Verrucomicrobia,</tspan><tspan x="0" dy="4.25">c__Verrucomicrobiae,</tspan><tspan x="0" dy="4.25">o__Verrucomicrobiales,</tspan><tspan x="0" dy="4.25">f__Verrucomicrobiaceae, g__Akkermansia,</tspan><tspan x="0" dy="4.25">s__muciniphila</tspan></text>
<text class="lg" transform="translate(313.2 468.70) scale(1.2 1)"><tspan x="0">k__Bacteria, p__Firmicutes, c__Bacilli,</tspan><tspan x="0" dy="4.25">o__Lactobacillales, f__Lactobacillaceae,</tspan><tspan x="0" dy="4.25">g__Lactobacillus, s__</tspan></text>
<text class="lg" transform="translate(313.2 484.00) scale(1.2 1)"><tspan x="0">k__Bacteria, p__Firmicutes, c__Clostridia,</tspan><tspan x="0" dy="4.25">o__Clostridiales, f__Peptostreptococcaceae,</tspan><tspan x="0" dy="4.25">g__, s__</tspan></text>
<text class="lg" transform="translate(313.2 499.12) scale(1.2 1)"><tspan x="0">k__Bacteria, p__Firmicutes, c__Clostridia,</tspan><tspan x="0" dy="4.25">o__Clostridiales, f__, g__, s__</tspan></text>
<text class="lg" transform="translate(313.2 509.90) scale(1.2 1)"><tspan x="0">k__Bacteria, p__Bacteroidetes,</tspan><tspan x="0" dy="4.25">c__Bacteroidia, o__Bacteroidales, f__S24-</tspan><tspan x="0" dy="4.25">7, g__, s__</tspan></text>
</g>
</svg>
</body></html>
